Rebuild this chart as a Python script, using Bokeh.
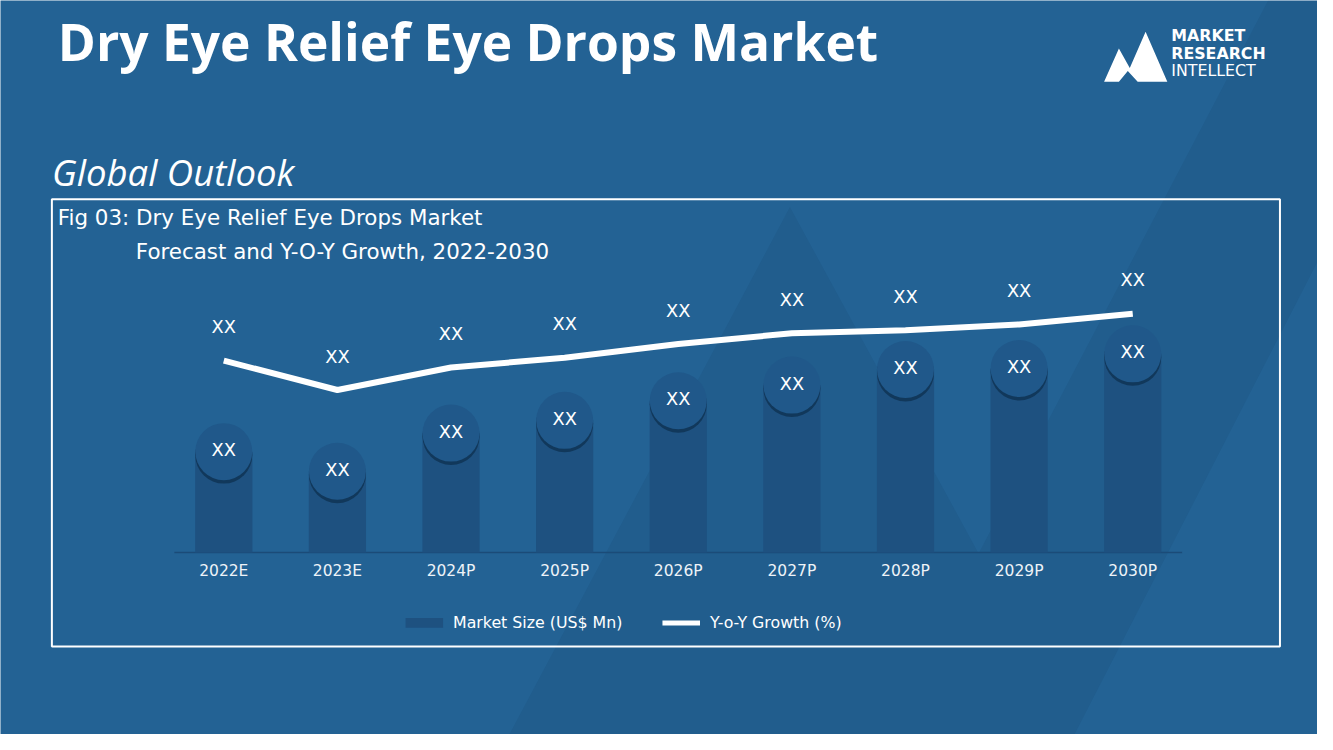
from bokeh.plotting import figure
from bokeh.models import Range1d, ColumnDataSource
from bokeh.core.properties import value
from bokeh.embed import file_html
from bokeh.resources import INLINE

# ---------------- data ----------------
categories = ["2022E", "2023E", "2024P", "2025P", "2026P", "2027P", "2028P", "2029P", "2030P"]
market_size = [10.3, 8.3, 12.2, 13.5, 15.5, 17.1, 18.7, 18.8, 20.3]
yoy_growth = [4.8, 3.3, 4.45, 4.95, 5.65, 6.2, 6.35, 6.65, 7.2]
bar_labels = ["XX", "XX", "XX", "XX", "XX", "XX", "XX", "XX", "XX"]
growth_labels = ["XX", "XX", "XX", "XX", "XX", "XX", "XX", "XX", "XX"]
main_title = "Dry Eye Relief Eye Drops Market"
sub_title = "Global Outlook"
fig_title_1 = "Fig 03: Dry Eye Relief Eye Drops Market"
fig_title_2 = "Forecast and Y-O-Y Growth, 2022-2030"
legend_labels = ["Market Size (US$ Mn)", "Y-o-Y Growth (%)"]
logo_words = ["MARKET", "RESEARCH", "INTELLECT"]

# ---------------- style ----------------
BG = "#236294"
BAR = "#1e5180"
CIRCLE = "#20588a"
SHADOW = "#113759"
W, H = 1317, 734

p = figure(
    width=W, height=H, output_backend="svg", toolbar_location=None,
    x_range=Range1d(-1.9652, 9.6261),
    y_range=Range1d(-18.6, 56.4),
    x_axis_location=None, y_axis_location=None,
    min_border_left=0, min_border_right=0, min_border_top=0, min_border_bottom=0,
    background_fill_color=BG, border_fill_color=BG, outline_line_color=None,
)
p.xgrid.visible = False
p.ygrid.visible = False
p.extra_y_ranges = {"growth": Range1d(-14.3, 23.2), "py": Range1d(750, 0)}
p.extra_x_ranges = {"px": Range1d(0, 1333)}
D = dict(x_range_name="px", y_range_name="py")

# background watermark
p.patch([515, 799, 990, 1283, 1333, 1333, 1087], [750, 211, 565, 0, 0, 267, 750],
        fill_color="#0a2440", fill_alpha=0.08, line_color=None, **D)

# chart box
p.quad(left=[52], right=[1295], top=[203], bottom=[660], fill_color=None,
       line_color="white", line_width=2, **D)

# baseline
p.segment(x0=[176], y0=[564], x1=[1196], y1=[564], line_color="#1b4b78", line_width=1.5, **D)

idx = list(range(len(categories)))
src = ColumnDataSource(dict(x=idx, cat=categories, size=market_size,
                            size_sh=[v - 0.35 for v in market_size],
                            growth=yoy_growth, blab=bar_labels, glab=growth_labels,
                            zero=[0] * len(categories)))

p.vbar(x="x", top="size", bottom=0, width=0.504, source=src, fill_color=BAR, line_color=None)
p.scatter(x="x", y="size_sh", size=57, marker="circle", source=src, fill_color=SHADOW,
          fill_alpha=0.95, line_color=None)
p.scatter(x="x", y="size", size=57, marker="circle", source=src, fill_color=CIRCLE, line_color=None)
p.text(x="x", y="size", text="blab", source=src, y_offset=-2, text_align="center",
       text_baseline="middle", text_color="white", text_font=value("DejaVu Sans"),
       text_font_size="17.8px")

p.line(x="x", y="growth", source=src, y_range_name="growth", line_color="white", line_width=6)
p.text(x="x", y="growth", text="glab", source=src, y_range_name="growth", y_offset=-34,
       text_align="center", text_baseline="middle", text_color="white",
       text_font=value("DejaVu Sans"), text_font_size="17.8px")

# category labels
p.text(x="x", y="zero", text="cat", source=src, y_offset=19, text_align="center",
       text_baseline="middle", text_color="#eef3f8", text_font=value("DejaVu Sans"),
       text_font_size="15.5px")

# titles
p.text(x=[58], y=[41.5], text=[main_title], text_align="left", text_baseline="middle",
       text_color="white", text_font=value("Open Sans"), text_font_style="bold",
       text_font_size="51.5px", **D)
p.text(x=[52], y=[175], text=[sub_title], text_align="left", text_baseline="middle",
       text_color="white", text_font=value("Open Sans"), text_font_style="italic",
       text_font_size="36.5px", **D)
p.text(x=[58], y=[222], text=[fig_title_1], text_align="left", text_baseline="middle",
       text_color="white", text_font=value("DejaVu Sans"), text_font_size="21.4px", **D)
p.text(x=[137], y=[256], text=[fig_title_2], text_align="left", text_baseline="middle",
       text_color="white", text_font=value("DejaVu Sans"), text_font_size="21.4px", **D)

# legend
p.quad(left=[410], right=[448], top=[631], bottom=[641], fill_color=BAR, line_color=None, **D)
p.segment(x0=[670], y0=[636], x1=[708], y1=[636], line_color="white", line_width=5, **D)
p.text(x=[458, 718], y=[636, 636], text=legend_labels, text_align="left", text_baseline="middle",
       text_color="white", text_font=value("DejaVu Sans"), text_font_size="15.8px", **D)

# logo
p.patch([1117, 1132, 1143, 1159, 1181, 1151, 1141, 1132],
        [83, 49, 69, 32, 83, 83, 72, 83], fill_color="white", line_color=None, **D)
p.text(x=[1185, 1185], y=[36, 54], text=logo_words[:2], text_align="left", text_baseline="middle",
       text_color="white", text_font=value("DejaVu Sans"), text_font_style="bold",
       text_font_size="15.8px", **D)
p.text(x=[1185], y=[72], text=logo_words[2:], text_align="left", text_baseline="middle",
       text_color="white", text_font=value("DejaVu Sans"), text_font_size="15.8px", **D)

open("out.html", "w").write(file_html(p, INLINE))
